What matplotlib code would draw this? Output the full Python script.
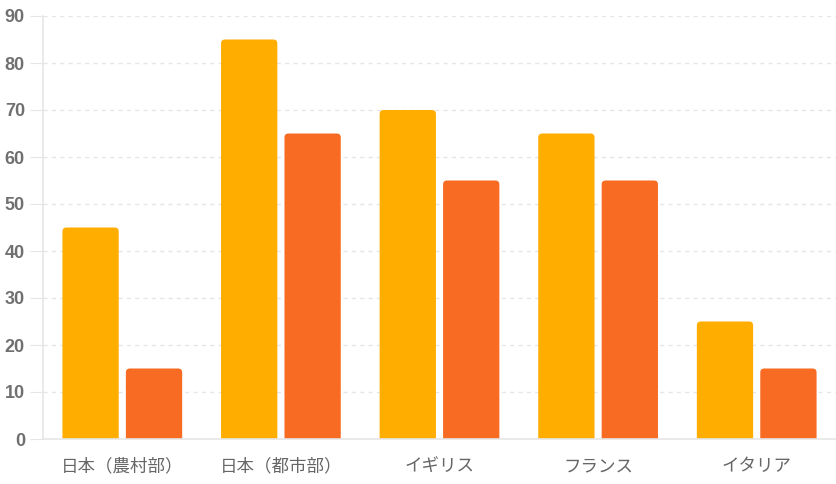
import matplotlib
matplotlib.use("Agg")
import matplotlib.pyplot as plt
import numpy as np
from matplotlib.patches import FancyBboxPatch

plt.rcParams['font.family'] = ['Noto Sans CJK JP', 'DejaVu Sans']

categories = ['日本（農村部）', '日本（都市部）', 'イギリス', 'フランス', 'イタリア']
series_a = [45, 85, 70, 65, 25]
series_b = [15, 65, 55, 55, 15]
colors = ['#FFAE00', '#F76B22']

W, H = 836, 484
fig = plt.figure(figsize=(W / 100, H / 100), dpi=100)
left, right, top, bottom = 43, 836, 16, 439
ax = fig.add_axes([left / W, (H - bottom) / H, (right - left) / W, (bottom - top) / H])

x = np.arange(len(categories))
bw = 0.355
off = 0.2
bars_a = ax.bar(x - off, series_a, bw, color=colors[0])
bars_b = ax.bar(x + off, series_b, bw, color=colors[1])

# swap plain rectangles for rounded ones (bottom sunk under the axis so only top is round)
px_per_x = (right - left) / len(categories)
px_per_y = (bottom - top) / 90.0
rad = 4.0 / px_per_x
aspect = (4.0 / px_per_y) / rad
sink = 3.0
for bars in (bars_a, bars_b):
    for b in bars:
        b.set_visible(False)
        p = FancyBboxPatch((b.get_x(), b.get_y() - sink), b.get_width(), b.get_height() + sink,
                           boxstyle="round,pad=0,rounding_size=%f" % rad,
                           mutation_aspect=aspect, facecolor=b.get_facecolor(),
                           edgecolor='none', zorder=3)
        ax.add_patch(p)

ax.set_xlim(-0.5, len(categories) - 0.5)
ax.set_ylim(0, 90)
ax.set_yticks(range(0, 91, 10))
ax.set_xticks(x)
ax.set_xticklabels(categories)
ax.yaxis.grid(True, color='#e6e6e6', linestyle=(0, (3, 3)), linewidth=1)
ax.set_axisbelow(True)

for s in ['top', 'right']:
    ax.spines[s].set_visible(False)
ax.spines['left'].set_color('#e6e6e6')
ax.spines['bottom'].set_color('#e6e6e6')
ax.spines['left'].set_linewidth(1.2)
ax.spines['bottom'].set_linewidth(1.2)
ax.spines['bottom'].set_zorder(4)
ax.tick_params(axis='y', length=9.5, color='#e6e6e6', labelcolor='#707070',
               labelsize=13, pad=3.5)
ax.tick_params(axis='x', length=0, labelcolor='#666666', labelsize=12.6, pad=13)
for t in ax.get_yticklabels():
    t.set_family(['Liberation Sans'])
    t.set_fontweight('bold')

fig.savefig('out.png', dpi=100)
